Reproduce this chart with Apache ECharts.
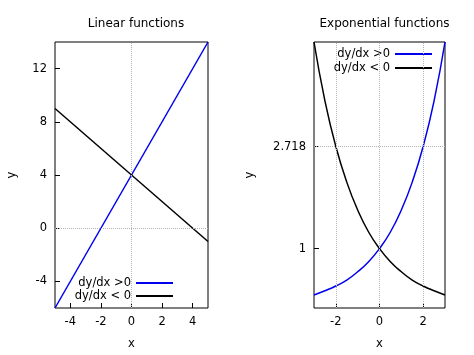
<!DOCTYPE html>
<html><head><meta charset="utf-8">
<script src="https://cdn.jsdelivr.net/npm/echarts@6/dist/echarts.min.js"></script>
<style>html,body{margin:0;padding:0;background:#fff}#c{width:474px;height:355px}</style>
</head><body><div id="c"></div>
<script>
// ---- Left panel: linear functions ----
const linX = [-5, 5];
const linPos = [-6, 14];      // dy/dx > 0
const linNeg = [9, -1];       // dy/dx < 0
const linXTicks = [-4, -2, 0, 2, 4];
const linYTicks = [-4, 0, 4, 8, 12];
const linGridX = [0];
const linGridY = [0];

// ---- Right panel: exponential functions ----
const expX   = [-3, -2.5, -2, -1.5, -1, -0.5, 0, 0.5, 1, 1.5, 2, 2.5, 3];
const expPos = [0.22, 0.29, 0.37, 0.47, 0.61, 0.78, 1, 1.28, 1.65, 2.12, 2.72, 3.49, 4.48];
const expNeg = [4.48, 3.49, 2.72, 2.12, 1.65, 1.28, 1, 0.78, 0.61, 0.47, 0.37, 0.29, 0.22];
const expXTicks = [-2, 0, 2];
const expYTicks = [1, 2.718];
const expGridX = [-2, 0, 2];
const expGridY = [2.718];

const names = ['dy/dx >0', 'dy/dx < 0'];
const titles = ['Linear functions', 'Exponential functions'];

const FONT = 'DejaVu Sans';
const BLUE = '#0000ee';
const BLACK = '#000000';
const txt = {color: '#000', fontFamily: FONT, fontSize: 11.5};
const titleTxt = {color: '#000', fontFamily: FONT, fontSize: 12, fontWeight: 'normal'};

function pairs(xs, ys) { return xs.map((x, i) => [x, ys[i]]); }

function xAxisCfg(gi, min, max, ticks) {
  return {
    type: 'value', gridIndex: gi, min: min, max: max,
    name: 'x', nameLocation: 'middle', nameGap: 30, nameTextStyle: txt,
    axisLine: {show: false, onZero: false},
    axisTick: {show: true, inside: true, length: 5, customValues: ticks, lineStyle: {color: '#000'}},
    axisLabel: {show: true, customValues: ticks, margin: 8, ...txt},
    splitLine: {show: false}
  };
}
function yAxisCfg(gi, min, max, ticks, gap, fmt) {
  return {
    type: 'value', gridIndex: gi, min: min, max: max,
    name: 'y', nameLocation: 'middle', nameGap: gap, nameRotate: 90, nameTextStyle: txt,
    axisLine: {show: false, onZero: false},
    axisTick: {show: true, inside: true, length: 5, customValues: ticks, lineStyle: {color: '#000'}},
    axisLabel: {show: true, customValues: ticks, margin: 8, ...txt, formatter: fmt},
    splitLine: {show: false}
  };
}
function gridLines(gx, gy) {
  return {
    silent: true, symbol: 'none', label: {show: false},
    lineStyle: {type: 'dotted', color: '#b4b4b4', width: 1},
    data: gx.map(v => ({xAxis: v})).concat(gy.map(v => ({yAxis: v})))
  };
}
function legendCfg(name, right, top) {
  return {
    data: [name], orient: 'vertical', right: right, top: top, align: 'right',
    icon: 'rect', itemWidth: 37, itemHeight: 2, padding: 0,
    textStyle: txt, selectedMode: false
  };
}

const chart = echarts.init(document.getElementById('c'), null, {renderer: 'canvas'});
chart.setOption({
  animation: false,
  backgroundColor: '#fff',
  title: [
    {text: titles[0], left: 131, top: 13, textAlign: 'center', textStyle: titleTxt},
    {text: titles[1], left: 379.5, top: 13, textAlign: 'center', textStyle: titleTxt}
  ],
  legend: [
    legendCfg(names[0], 301, 277),
    legendCfg(names[1], 301, 290),
    legendCfg(names[0], 42, 48),
    legendCfg(names[1], 42, 62)
  ],
  grid: [
    {left: 55, right: 266, top: 42, bottom: 45, show: true, borderColor: '#000', borderWidth: 1, backgroundColor: 'transparent'},
    {left: 314, right: 29, top: 42, bottom: 45, show: true, borderColor: '#000', borderWidth: 1, backgroundColor: 'transparent'}
  ],
  xAxis: [
    xAxisCfg(0, -5, 5, linXTicks),
    xAxisCfg(1, -3, 3, expXTicks)
  ],
  yAxis: [
    yAxisCfg(0, -6, 14, linYTicks, 37, v => String(v)),
    yAxisCfg(1, 0, 4.48, expYTicks, 58, v => String(v))
  ],
  series: [
    {name: names[0], type: 'line', xAxisIndex: 0, yAxisIndex: 0, data: pairs(linX, linPos),
     showSymbol: false, lineStyle: {color: BLUE, width: 1.5}, itemStyle: {color: BLUE},
     markLine: gridLines(linGridX, linGridY), z: 3},
    {name: names[1], type: 'line', xAxisIndex: 0, yAxisIndex: 0, data: pairs(linX, linNeg),
     showSymbol: false, lineStyle: {color: BLACK, width: 1.5}, itemStyle: {color: BLACK}, z: 3},
    {name: names[0], type: 'line', xAxisIndex: 1, yAxisIndex: 1, data: pairs(expX, expPos), smooth: true,
     showSymbol: false, lineStyle: {color: BLUE, width: 1.5}, itemStyle: {color: BLUE},
     markLine: gridLines(expGridX, expGridY), z: 3},
    {name: names[1], type: 'line', xAxisIndex: 1, yAxisIndex: 1, data: pairs(expX, expNeg), smooth: true,
     showSymbol: false, lineStyle: {color: BLACK, width: 1.5}, itemStyle: {color: BLACK}, z: 3}
  ]
});
</script>
</body></html>
